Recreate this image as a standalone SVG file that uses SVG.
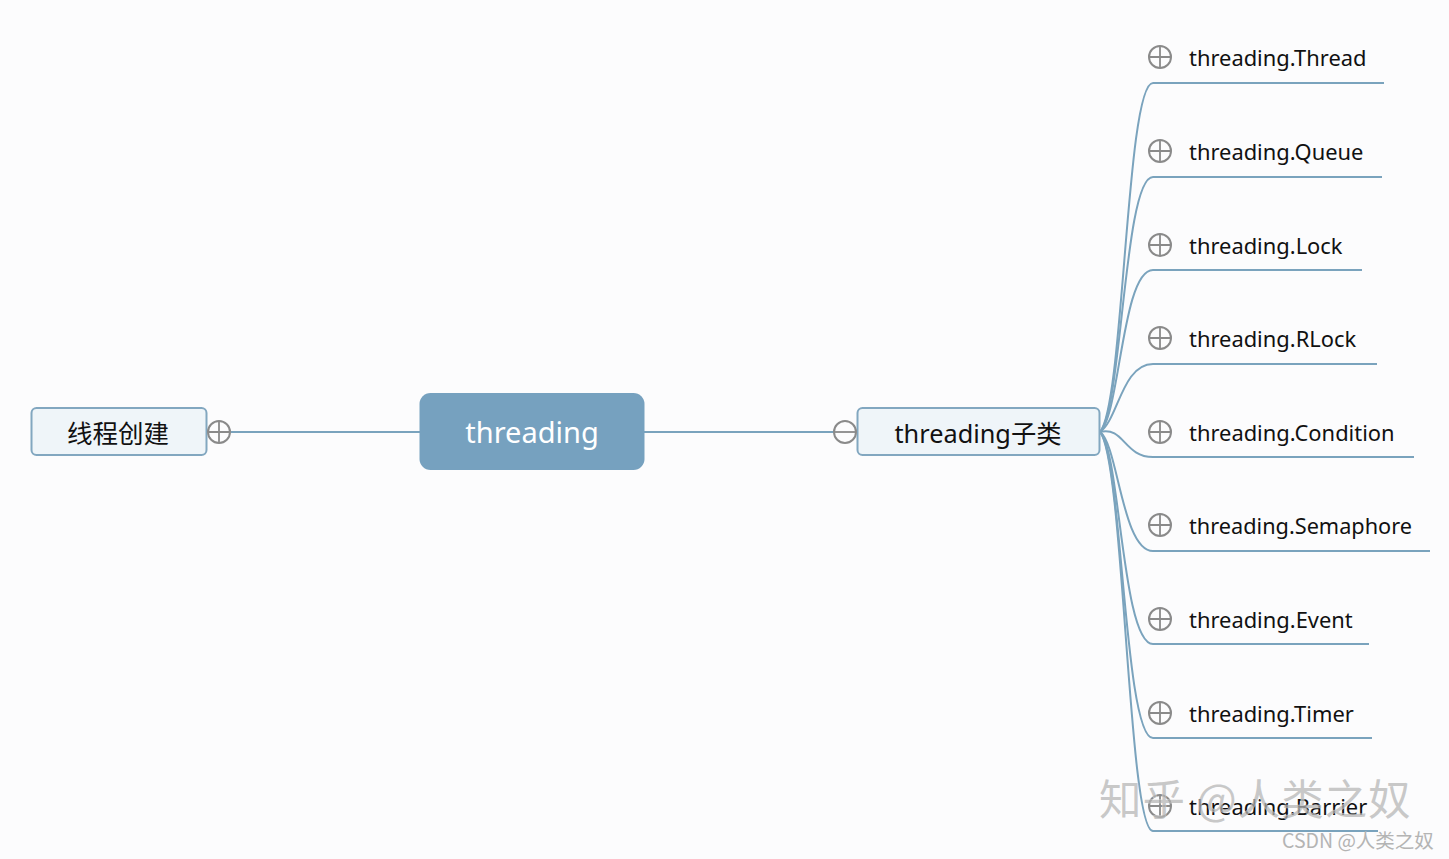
<svg xmlns="http://www.w3.org/2000/svg" width="1449" height="859" viewBox="0 0 1449 859">
<style>
.c{fill:none;stroke:#7aa3bd;stroke-width:2}
.t{font-family:"Noto Sans","Noto Sans CJK SC",sans-serif;fill:#111}
.l{font-size:21.900px}
.n{fill:#eff5f9;stroke:#82a7c0;stroke-width:2}
.b{fill:#fcfcfd;stroke:#8a8a8a;stroke-width:2}
.m{stroke:#8a8a8a;stroke-width:1.800;fill:none}
.w{font-family:"Noto Sans CJK SC","Noto Sans",sans-serif;fill:#b4b4b4}
</style>
<defs>
<g id="plus"><circle class="b" r="11"/><path class="m" d="M-11 0H11M0-11V11"/></g>
</defs>
<rect width="1449" height="859" fill="#fcfcfd"/>
<g id="connectors">
<path class="c" d="M231 432H420"/>
<path class="c" d="M644 432H834"/>
<path class="c" d="M1100 432C1124 405 1126 83 1153 83H1384"/>
<path class="c" d="M1100 432C1122 410 1124 177 1153 177H1382"/>
<path class="c" d="M1100 432C1120 415 1122 270 1153 270H1362"/>
<path class="c" d="M1100 432C1118 420 1122 364 1153 364H1377"/>
<path class="c" d="M1100 432C1124 426 1124 457 1153 457H1414"/>
<path class="c" d="M1100 432C1118 444 1122 551 1153 551H1430"/>
<path class="c" d="M1100 432C1120 449 1122 644 1153 644H1369"/>
<path class="c" d="M1100 432C1122 454 1124 738 1153 738H1372"/>
<path class="c" d="M1100 432C1124 459 1128 831 1153 831H1378"/>
</g>
<g id="node-create"><rect class="n" x="31.500" y="408" width="175" height="47" rx="5"/><text class="t" x="118" y="442.500" font-size="25.500" text-anchor="middle">线程创建</text><use href="#plus" x="219" y="432"/></g>
<g id="node-root"><rect x="419.500" y="393" width="225" height="77" rx="11" fill="#76a1bf"/><text x="532" y="442.500" font-size="29" text-anchor="middle" class="t" style="fill:#fff">threading</text></g>
<g id="node-sub"><rect class="n" x="857.500" y="408" width="242" height="47" rx="5"/><text class="t" x="978" y="442.500" font-size="25.300" text-anchor="middle">threading子类</text><circle class="b" cx="845" cy="432" r="11"/><path class="m" d="M834 432H856"/></g>
<g id="node-thread"><use href="#plus" x="1160" y="57"/><text class="t l" x="1189" y="65.500">threading.Thread</text></g>
<g id="node-queue"><use href="#plus" x="1160" y="151"/><text class="t l" x="1189" y="159.500">threading.Queue</text></g>
<g id="node-lock"><use href="#plus" x="1160" y="245"/><text class="t l" x="1189" y="253.500">threading.Lock</text></g>
<g id="node-rlock"><use href="#plus" x="1160" y="338"/><text class="t l" x="1189" y="346.500">threading.RLock</text></g>
<g id="node-condition"><use href="#plus" x="1160" y="432"/><text class="t l" x="1189" y="440.500">threading.Condition</text></g>
<g id="node-semaphore"><use href="#plus" x="1160" y="525"/><text class="t l" x="1189" y="533.500" textLength="223" lengthAdjust="spacingAndGlyphs">threading.Semaphore</text></g>
<g id="node-event"><use href="#plus" x="1160" y="619"/><text class="t l" x="1189" y="627.500">threading.Event</text></g>
<g id="node-timer"><use href="#plus" x="1160" y="713"/><text class="t l" x="1189" y="721.500">threading.Timer</text></g>
<g id="node-barrier"><use href="#plus" x="1160" y="806"/><text class="t l" x="1189" y="814.500">threading.Barrier</text></g>
<text class="w" x="1099" y="815" font-size="42.500" letter-spacing="1" fill-opacity=".72" stroke="#fcfcfd" stroke-opacity=".6" stroke-width=".7" paint-order="stroke">知乎 @人类之奴</text>
<text class="w" x="1282" y="848" font-size="19.500">CSDN @人类之奴</text>
</svg>
